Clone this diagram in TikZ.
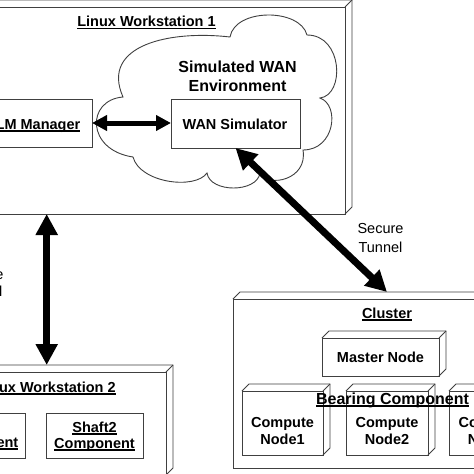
\documentclass[tikz,border=0pt]{standalone}
\usepackage{fontspec}
\setmainfont{Liberation Sans}
\usetikzlibrary{arrows.meta,calc}
\newcommand{\uln}[1]{\leavevmode\setbox0\hbox{#1}\rlap{\rule[-2.3pt]{\wd0}{1.1pt}}\box0}
\newcommand{\boxdepth}[2][7]{%
  \draw[boxline] (#2.north west) -- ++(#1,-#1) -- ([shift={(#1,-#1)}]#2.north east) -- ([shift={(#1,-#1)}]#2.south east) -- (#2.south east);
  \draw[boxline] (#2.north east) -- ++(#1,-#1);}
\tikzset{
  boxline/.style={draw=black!75, line width=0.9pt},
  box/.style={boxline, fill=white, rectangle, inner sep=0pt, outer sep=0pt},
  lbl/.style={font=\fontsize{14.5}{17}\selectfont\bfseries, inner sep=0pt, text height=10.4pt, text depth=0pt},
  mlbl/.style={font=\fontsize{14.5}{17}\selectfont\bfseries, inner sep=0pt, align=center, anchor=north},
  rlbl/.style={font=\fontsize{14.5}{19}\selectfont, inner sep=0pt, align=center, anchor=north},
  midarr/.style={line width=5pt, {Triangle[length=15pt,width=15pt]}-{Triangle[length=15pt,width=15pt]}},
  bigarr/.style={line width=7pt, {Triangle[length=21pt,width=21pt]}-{Triangle[length=21pt,width=21pt]}},
}
\begin{document}
\begin{tikzpicture}[x=1pt,y=-1pt]
\useasboundingbox (0,0) rectangle (474,474);
\fill[white] (0,0) rectangle (474,474);
\clip (0,0) rectangle (474,474);
% Workstation 1
\node[box, minimum width=365pt, minimum height=207pt] (ws1) at (162.5,110.5) {};
\boxdepth{ws1}
% cloud
\coordinate (cA) at (123,97);
\coordinate (cB) at (133,157);
\coordinate (cC) at (207,173);
\coordinate (cD) at (260,173);
\coordinate (cE) at (303,150);
\coordinate (cF) at (320,98);
\coordinate (cG) at (307,35);
\coordinate (cH) at (230,37);
\draw[boxline, fill=white] (cA) .. controls (86,100) and (86,150) .. (cB)
  .. controls (140,183) and (195,190) .. (cC)
  .. controls (210,193) and (257,193) .. (cD)
  .. controls (268,188) and (308,180) .. (cE)
  .. controls (335,150) and (340,105) .. (cF)
  .. controls (345,95) and (343,35) .. (cG)
  .. controls (300,8) and (235,8) .. (cH)
  .. controls (170,30) and (100,45) .. (cA) -- cycle;
\node[box, minimum width=104pt, minimum height=48pt] (lm) at (40,123) {};
\node[box, minimum width=129pt, minimum height=49pt] (wan) at (235.5,123.5) {};
\node[lbl] (ws1t) at (146.5,21.5) {\uln{Linux Workstation 1}};
\node[mlbl, font=\fontsize{16}{19.5}\selectfont\bfseries] (cloudt) at (237.5,60.5) {Simulated WAN\\Environment};
\node[lbl] (lmt) at (38,124) {\uln{LM Manager}};
\node[lbl] (want) at (235,124) {WAN Simulator};
% Workstation 2
\node[box, minimum width=246pt, minimum height=103pt] (ws2) at (43,423.5) {};
\boxdepth{ws2}
\node[box, minimum width=97pt, minimum height=45pt] (s1) at (-23.5,435.5) {};
\node[box, minimum width=97pt, minimum height=45pt] (s2) at (94.5,435.5) {};
\node[lbl] (ws2t) at (46.5,387) {\uln{Linux Workstation 2}};
\node[lbl] (s1t) at (-22,442) {\uln{Component}};
\node[mlbl, font=\fontsize{14.5}{16}\selectfont\bfseries] (s2t) at (94.5,421.5) {\uln{Shaft2}\\\uln{Component}};
% Cluster
\node[box, minimum width=287pt, minimum height=169pt] (cl) at (376.5,383.5) {};
\boxdepth{cl}
\node[box, minimum width=117pt, minimum height=38pt] (master) at (380.5,357) {};
\boxdepth{master}
\node[box, minimum width=81pt, minimum height=64pt] (cn1) at (282.5,423) {};
\boxdepth{cn1}
\node[box, minimum width=82pt, minimum height=64pt] (cn2) at (387,423) {};
\boxdepth{cn2}
\node[box, minimum width=82pt, minimum height=64pt] (cn3) at (490,423) {};
\boxdepth{cn3}
\node[lbl] (clt) at (387,313) {\uln{Cluster}};
\node[lbl] (mastert) at (380.5,357) {Master Node};
\node[mlbl] (cn1t) at (282.5,417) {Compute\\Node1};
\node[mlbl] (cn2t) at (387,417) {Compute\\Node2};
\node[mlbl] (cn3t) at (490,417) {Compute\\Node3};
\node[lbl, font=\fontsize{16}{18}\selectfont\bfseries, text height=11.5pt] (bct) at (392.5,398.5) {\uln{Bearing Component}};
% labels of links
\node[rlbl] (sec1) at (380.5,222.8) {Secure\\Tunnel};
\node[rlbl, font=\fontsize{14.5}{17}\selectfont] (sec2) at (-19.5,269.6) {Secure\\Tunnel};
% connectors
\coordinate (vb) at (46.7,365);
\coordinate (ctop) at (387,292);
\draw[midarr] (lm.east) -- (lm.east -| wan.west);
\draw[bigarr] (ws1.south -| vb) -- (vb);
\draw[bigarr] (wan.south) -- (ctop);
\end{tikzpicture}
\end{document}
